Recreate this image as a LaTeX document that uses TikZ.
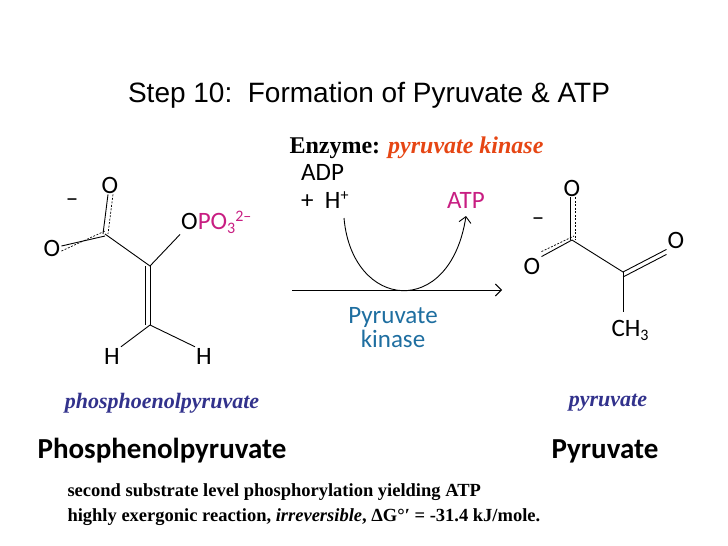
\documentclass[tikz,border=0pt]{standalone}
\usepackage{fontspec}
\setmainfont{Liberation Serif}
\newfontfamily\arial{Liberation Sans}
\newfontfamily\carl{Carlito}
\usetikzlibrary{arrows.meta}
\definecolor{mag}{RGB}{200,30,130}
\definecolor{enz}{RGB}{230,70,20}
\definecolor{kblue}{RGB}{30,110,160}
\definecolor{navy}{RGB}{50,50,140}
\newcommand{\sbs}[1]{\raisebox{-4pt}{\fontsize{16}{16}\selectfont #1}}
\newcommand{\sps}[1]{\raisebox{8pt}{\fontsize{16}{16}\selectfont #1}}
\tikzset{
 atom/.style={font=\carl\fontsize{25}{27}\selectfont,inner sep=1pt},
 bond/.style={line width=0.9pt},
 dbond/.style={line width=0.7pt,dashed,dash pattern=on 2pt off 1.5pt},
 lbl/.style={font=\bfseries\itshape\fontsize{22}{24}\selectfont,text=navy},
 big/.style={font=\carl\bfseries\fontsize{29}{31}\selectfont},
 note/.style={font=\bfseries\fontsize{18.5}{20}\selectfont,anchor=west}
}
\begin{document}
\begin{tikzpicture}[x=1pt,y=-1pt]
\useasboundingbox (0,0) rectangle (728,546);
\node (title) at (369,95) {\arial\fontsize{28}{30}\selectfont Step 10:\ \ Formation of Pyruvate \& ATP};
\node[anchor=west] (enz) at (286,148) {\fontsize{24}{26}\selectfont\bfseries Enzyme: \textcolor{enz}{\itshape pyruvate kinase}};
% left molecule
\node[atom] (o1) at (110,185) {O};
\node[atom] (m1) at (72,203) {–};
\node[atom] (o2) at (52,248) {O};
\coordinate (c1) at (105,234);
\coordinate (c2) at (150,266);
\coordinate (c3) at (150,325);
\node[atom,anchor=west] (op) at (180,222) {O\textcolor{mag}{PO\sbs{3}\sps{2–}}};
\node[atom] (h1) at (112,356) {H};
\node[atom] (h2) at (204,356) {H};
\draw[bond] (o1.south) ++(-2,0) -- ([xshift=-2pt]c1);
\draw[dbond] (o1.south) ++(3,0) -- ([xshift=3pt]c1);
\draw[bond] (o2.east) ++(0,-2) -- ([yshift=-2pt]c1);
\draw[dbond] (o2.east) ++(0,3) -- ([yshift=3pt]c1);
\draw[bond] (c1) -- (c2) -- (op.south west) ;
\draw[bond] (c2) -- (c3);
\draw[bond] ([xshift=-5pt]c2) -- ([xshift=-5pt]c3);
\draw[bond] (c3) -- (h1.north east);
\draw[bond] (c3) -- (h2.north west);
% arrows
\coordinate (a0) at (292,290);
\coordinate (a1) at (502,290);
\draw[line width=0.9pt,-{Straight Barb[length=6pt]}] (a0) -- (a1);
\node[atom,anchor=west] (adp) at (300,172) {ADP};
\node[atom,anchor=west] (hp) at (300,200) {+\ \ H\sps{+}};
\node[atom,text=mag] (atp) at (466,200) {ATP};
\coordinate (cs) at (344,218);
\coordinate (ce) at (466,216);
\draw[line width=0.9pt,-{Straight Barb[length=6pt]}] (cs) .. controls (352,310) and (450,320) .. (ce);
\node[atom,text=kblue,align=center] (pk) at (393,328) {Pyruvate\\[-3pt]kinase};
% right molecule
\node[atom] (o3) at (572,188) {O};
\node[atom] (m2) at (538,222) {–};
\node[atom] (o4) at (532,266) {O};
\node[atom] (o5) at (676,240) {O};
\coordinate (d1) at (572,240);
\coordinate (d2) at (623,272);
\node[atom] (ch) at (630,330) {CH\sbs{3}};
\draw[bond] (o3.south) ++(-2,0) -- ([xshift=-2pt]d1);
\draw[dbond] (o3.south) ++(3,0) -- ([xshift=3pt]d1);
\draw[bond] (o4.north east) -- (d1);
\draw[dbond] ([yshift=5pt]o4.north east) -- ([xshift=2pt,yshift=4pt]d1);
\draw[bond] (d1) -- (d2) -- (o5.south west);
\draw[bond] ([yshift=-5pt]d2) -- ([yshift=-5pt]o5.south west);
\draw[bond] (d2) -- (623,312);
% labels
\node[lbl] (l1) at (162,403) {phosphoenolpyruvate};
\node[lbl] (l2) at (608,403) {pyruvate};
\node[big] (b1) at (162,451) {Phosphenolpyruvate};
\node[big] (b2) at (605,451) {Pyruvate};
\node[note] (n1) at (64,492) {second substrate level phosphorylation yielding ATP};
\node[note] (n2) at (64,517) {highly exergonic reaction, \textit{irreversible}, ΔG°′ = -31.4 kJ/mole.};
\end{tikzpicture}
\end{document}
